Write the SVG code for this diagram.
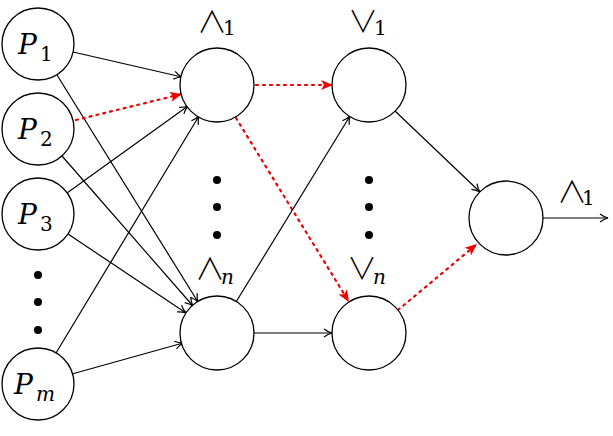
<svg xmlns="http://www.w3.org/2000/svg" width="613" height="436" viewBox="0 0 613 436">
<style>
.n{fill:#fff;stroke:#000;stroke-width:1.3}
.e{stroke:#000;stroke-width:1.2;fill:none;marker-end:url(#a)}
.r{stroke:#e00;stroke-width:2.2;stroke-dasharray:2 5;stroke-linecap:round;fill:none;marker-end:url(#ar)}
.p{font-family:"DejaVu Serif",serif;font-style:italic;font-size:28px}
.s{font-family:"DejaVu Serif",serif;font-size:20px}
.op{font-family:"Noto Sans CJK SC","DejaVu Sans",sans-serif;font-weight:300;font-size:30px}
.d{fill:#000}
</style>
<defs>
<marker id="a" markerWidth="10" markerHeight="10" refX="9" refY="5" orient="auto" markerUnits="userSpaceOnUse"><path d="M1,1 Q5,4 9,5 Q5,6 1,9" fill="none" stroke="#000" stroke-width="1.2"/></marker>
<marker id="ar" markerWidth="14" markerHeight="12" refX="12" refY="6" orient="auto" markerUnits="userSpaceOnUse"><path d="M0,1 L12,6 L0,11 L3,6Z" fill="#e00"/></marker>
</defs>
<g id="connectors">
<line class="e" x1="73" y1="52" x2="182" y2="77"/>
<line class="e" x1="57" y1="75" x2="198" y2="302"/>
<line class="r" x1="76" y1="120" x2="182" y2="94"/>
<line class="e" x1="62" y1="156" x2="193" y2="306"/>
<line class="e" x1="67" y1="193" x2="188" y2="106"/>
<line class="e" x1="68" y1="234" x2="186" y2="313"/>
<line class="e" x1="56" y1="353" x2="199" y2="116"/>
<line class="e" x1="72" y1="374" x2="183" y2="343"/>
<line class="r" x1="256" y1="85" x2="333" y2="85"/>
<line class="r" x1="236" y1="118" x2="349" y2="302"/>
<line class="e" x1="236" y1="302" x2="350" y2="116"/>
<line class="e" x1="254" y1="333" x2="332" y2="333"/>
<line class="e" x1="395" y1="111" x2="480" y2="192"/>
<line class="r" x1="398" y1="310" x2="477" y2="244"/>
<line class="e" x1="543" y1="218" x2="608" y2="218"/>
</g>
<g id="P1"><circle class="n" cx="38" cy="44" r="36"/><text class="p" x="18" y="54">P</text><text class="s" x="40" y="61">1</text></g>
<g id="P2"><circle class="n" cx="38" cy="129" r="36"/><text class="p" x="18" y="139">P</text><text class="s" x="40" y="146">2</text></g>
<g id="P3"><circle class="n" cx="38" cy="214" r="36"/><text class="p" x="18" y="224">P</text><text class="s" x="40" y="231">3</text></g>
<g id="Pm"><circle class="n" cx="38" cy="384" r="36"/><text class="p" x="14" y="394">P</text><text class="s" x="36" y="401" font-style="italic">m</text></g>
<g id="dotsP"><circle class="d" cx="38" cy="275" r="4"/><circle class="d" cx="38" cy="302" r="4"/><circle class="d" cx="38" cy="330" r="4"/></g>
<g id="and1"><circle class="n" cx="217" cy="85" r="37"/><text class="op" x="197" y="32">∧</text><text class="s" x="223" y="35">1</text></g>
<g id="andn"><circle class="n" cx="217" cy="333" r="37"/><text class="op" x="195" y="279">∧</text><text class="s" x="221" y="284" font-style="italic">n</text></g>
<g id="dotsA"><circle class="d" cx="217" cy="180" r="4"/><circle class="d" cx="217" cy="207" r="4"/><circle class="d" cx="217" cy="235" r="4"/></g>
<g id="or1"><circle class="n" cx="369" cy="85" r="37"/><text class="op" x="348" y="32">∨</text><text class="s" x="374" y="35">1</text></g>
<g id="orn"><circle class="n" cx="369" cy="333" r="37"/><text class="op" x="347" y="279">∨</text><text class="s" x="373" y="284" font-style="italic">n</text></g>
<g id="dotsO"><circle class="d" cx="369" cy="180" r="4"/><circle class="d" cx="369" cy="207" r="4"/><circle class="d" cx="369" cy="235" r="4"/></g>
<g id="out"><circle class="n" cx="506" cy="218" r="37"/><text class="op" x="557" y="202">∧</text><text class="s" x="582" y="205">1</text></g>
</svg>
